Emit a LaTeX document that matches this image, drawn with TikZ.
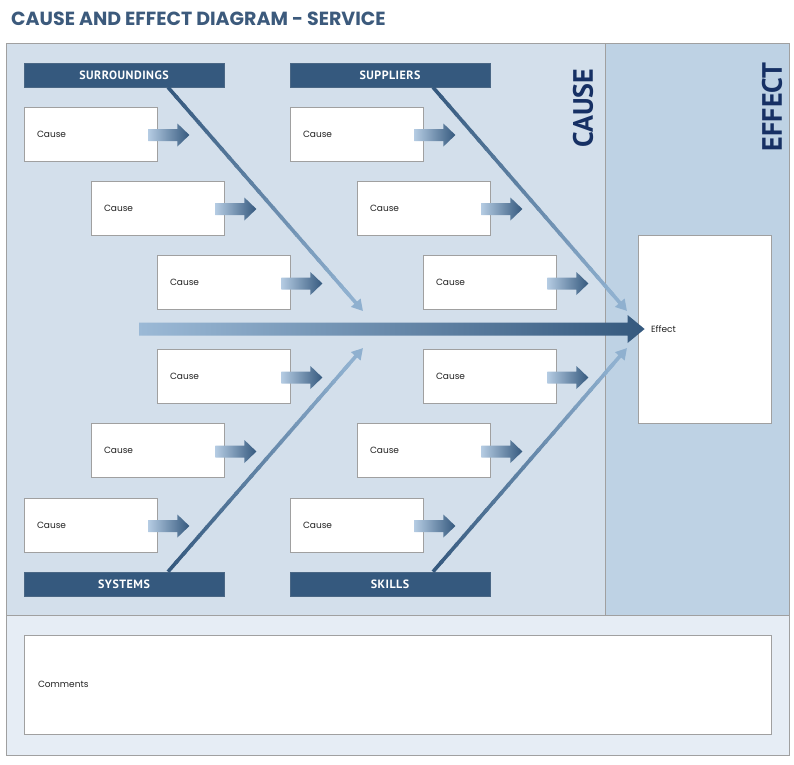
\documentclass[tikz,border=0pt]{standalone}
\usepackage{fontspec}
\setmainfont{Poppins}
\newfontfamily\hdfont{PT Sans}
\newfontfamily\hdspaced{PT Sans}[LetterSpace=4]
\usetikzlibrary{arrows.meta,calc}
\definecolor{navy}{RGB}{53,89,126}
\definecolor{titleblue}{RGB}{60,90,124}
\definecolor{labelnavy}{RGB}{22,48,100}
\definecolor{causebg}{RGB}{211,223,235}
\definecolor{effectbg}{RGB}{190,210,228}
\definecolor{commbg}{RGB}{230,237,245}
\definecolor{frame}{RGB}{160,160,160}
\definecolor{arrowlight}{RGB}{180,203,226}
\definecolor{spinelight}{RGB}{155,185,214}
\definecolor{bonelight}{RGB}{143,176,207}
\definecolor{causetext}{RGB}{35,35,35}
\newcommand\gradbone[2]{%
  \foreach \i in {0,...,23}{%
    \pgfmathsetmacro\ta{\i*0.92/24}%
    \pgfmathsetmacro\tb{(\i+1.3)*0.92/24}%
    \pgfmathtruncatemacro\pc{100-\i*100/24}%
    \draw[bonestyle, draw=navy!\pc!bonelight] ($(#1)!\ta!(#2)$) -- ($(#1)!\tb!(#2)$);
  }%
  \draw[bonestyle, draw=bonelight, -{Triangle[length=11pt,width=12pt]}] ($(#1)!0.9!(#2)$) -- (#2);
}
\begin{document}
\begin{tikzpicture}[x=1pt,y=-1pt,
  causebox/.style={draw=frame, line width=0.8pt, fill=white, minimum width=133pt, minimum height=54pt, inner xsep=13pt, inner ysep=0pt, text width=107pt, align=left, font=\fontsize{9}{11}\selectfont, text=causetext},
  hdr/.style={fill=navy, draw=navy!80!frame, line width=0.6pt, minimum width=200pt, minimum height=24pt, text=white, font=\hdspaced\bfseries\fontsize{12}{14}\selectfont, inner sep=0pt},
  sidelabel/.style={rotate=90, text=labelnavy, font=\hdfont\bfseries\fontsize{28}{32}\selectfont, inner sep=0pt},
  panel/.style={draw=frame, line width=0.8pt},
  bonestyle/.style={line width=3.6pt},
  pics/smallarrow/.style={code={\shade[left color=arrowlight, right color=navy] (0,-6) -- (29,-6) -- (29,-11.5) -- (41,0) -- (29,11.5) -- (29,6) -- (0,6) -- cycle;}}
]
\useasboundingbox (0,0) rectangle (794,764);
\fill[white] (0,0) rectangle (794,764);
% panels
\filldraw[panel, fill=causebg] (6,43) rectangle (605,615);
\filldraw[panel, fill=effectbg] (605,43) rectangle (789,615);
\filldraw[panel, fill=commbg] (6,615) rectangle (789,755);
% title
\node[anchor=base west, inner sep=0pt, text=titleblue, font=\bfseries\fontsize{19}{22}\selectfont] (title) at (11,25) {CAUSE AND EFFECT DIAGRAM - SERVICE};
% side labels
\node[sidelabel] (causelbl) at (583,108) {CAUSE};
\node[sidelabel] (effectlbl) at (772,107) {EFFECT};
% headers
\node[hdr] (h1) at (124,75) {SURROUNDINGS};
\node[hdr] (h2) at (390,75) {SUPPLIERS};
\node[hdr] (h3) at (124,584) {SYSTEMS};
\node[hdr] (h4) at (390,584) {SKILLS};
% cause boxes
\node[causebox] (a1) at (90.5,134) {Cause};
\node[causebox] (a2) at (157.5,208) {Cause};
\node[causebox] (a3) at (223.5,282.5) {Cause};
\node[causebox] (a4) at (223.5,376.5) {Cause};
\node[causebox] (a5) at (157.5,450.5) {Cause};
\node[causebox] (a6) at (90.5,525) {Cause};
\node[causebox] (b1) at (356.5,134) {Cause};
\node[causebox] (b2) at (423.5,208) {Cause};
\node[causebox] (b3) at (489.5,282.5) {Cause};
\node[causebox] (b4) at (489.5,376.5) {Cause};
\node[causebox] (b5) at (423.5,450.5) {Cause};
\node[causebox] (b6) at (356.5,525) {Cause};
\foreach \n in {a1,a2,a3,a4,a5,a6,b1,b2,b3,b4,b5,b6}{
  \pic at ($(\n.east)+(-9,1)$) {smallarrow};
}
% effect box
\node[causebox, minimum height=188pt] (eff) at (704.5,329) {Effect};
% spine
\coordinate (sp0) at (139,329);
\shade[left color=spinelight, right color=navy]
  ($(sp0)+(0,-6.5)$) -- ($(eff.west)+(-10,-6.5)$) -- ($(eff.west)+(-10,-14)$) -- ($(eff.west)+(7,0)$)
  -- ($(eff.west)+(-10,14)$) -- ($(eff.west)+(-10,6.5)$) -- ($(sp0)+(0,6.5)$) -- cycle;
% bones
\coordinate (s1) at ($(h1.south)+(44,0)$);
\coordinate (e1) at (363,311);
\coordinate (s2) at ($(h2.south)+(43,0)$);
\coordinate (e2) at (627,311);
\coordinate (s3) at ($(h3.north)+(44,0)$);
\coordinate (e3) at (363,348);
\coordinate (s4) at ($(h4.north)+(43,0)$);
\coordinate (e4) at (627,348);
\gradbone{s1}{e1}
\gradbone{s2}{e2}
\gradbone{s3}{e3}
\gradbone{s4}{e4}
% comments
\node[causebox, minimum width=747pt, minimum height=99pt, text width=719pt, inner xsep=14pt] (comm) at (397.5,684.5) {Comments};
\end{tikzpicture}
\end{document}
